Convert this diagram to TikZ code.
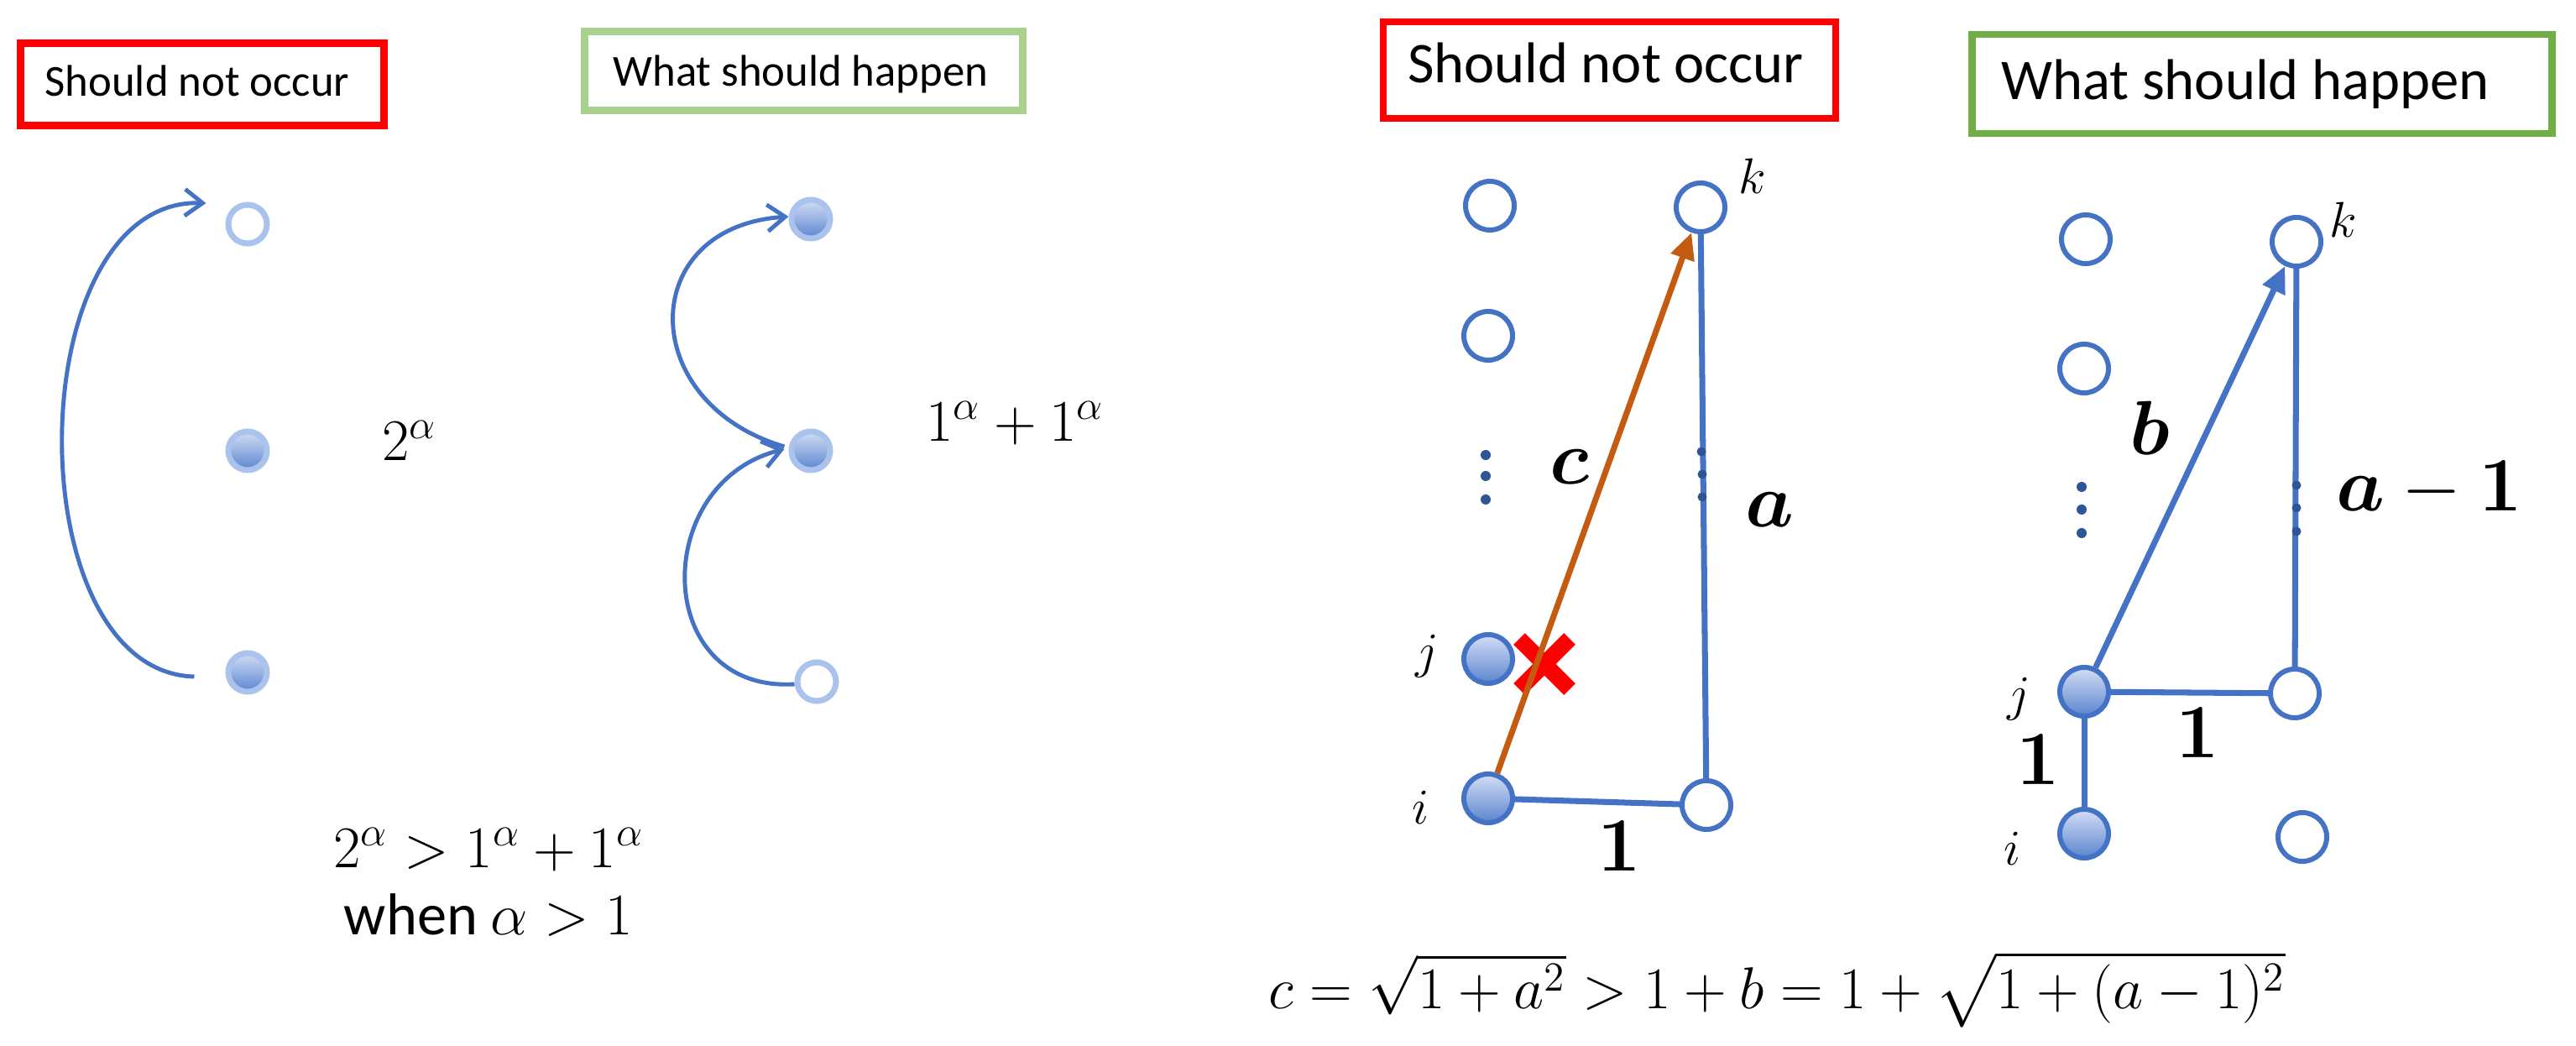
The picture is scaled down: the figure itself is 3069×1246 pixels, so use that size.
\RequirePackage{fix-cm}
\documentclass[tikz,border=0pt]{standalone}
\usepackage{amsmath}
\usepackage{bm}
\usepackage[no-math]{fontspec}
\setmainfont{Carlito}
\usetikzlibrary{arrows.meta}
\definecolor{lnblue}{HTML}{4472C4}
\definecolor{dotblue}{HTML}{2F5597}
\definecolor{ringlight}{HTML}{A9C3EC}
\definecolor{ballTop}{HTML}{D3DEF4}
\definecolor{ballBot}{HTML}{5B84CF}
\definecolor{arrorange}{HTML}{C55A11}
\definecolor{greenA}{HTML}{A9D18E}
\definecolor{greenB}{HTML}{70AD47}
\definecolor{xred}{HTML}{FF0000}
\begin{document}
\begin{tikzpicture}[x=0.01cm,y=-0.01cm,
  t15/.style={inner sep=0,font=\fontsize{15}{18}\selectfont},
  t20/.style={inner sep=0,font=\fontsize{19.5}{23}\selectfont},
  m20/.style={inner sep=0,font=\fontsize{20}{24}\selectfont},
  bl/.style={inner sep=0,font=\fontsize{26}{31}\selectfont},
  il/.style={inner sep=0,font=\fontsize{17}{20}\selectfont},
  hol/.style={circle,draw=lnblue,fill=white,line width=1.7pt,minimum size=0.58cm,inner sep=0},
  ful/.style={circle,draw=lnblue,line width=1.7pt,minimum size=0.58cm,inner sep=0,top color=ballTop,bottom color=ballBot},
  lhol/.style={circle,draw=ringlight,fill=white,line width=2pt,minimum size=0.46cm,inner sep=0},
  lful/.style={circle,draw=ringlight,line width=2pt,minimum size=0.46cm,inner sep=0,top color=ballTop,bottom color=ballBot},
  edgeln/.style={draw=lnblue,line width=2pt},
  curvearr/.style={draw=lnblue,line width=1.4pt,-{Straight Barb[length=6pt,width=9pt]}},
  framebox/.style={inner sep=0,line width=2.5pt}
]
\useasboundingbox (0,0) rectangle (3069,1246);

% ---------- frames ----------
\node[framebox,draw=xred,minimum width=4.33cm,minimum height=0.98cm] (bxL1) at (241,100.5) {};
\node[framebox,draw=greenA,minimum width=5.22cm,minimum height=0.94cm] (bxL2) at (957.5,84.5) {};
\node[framebox,draw=xred,line width=2.2pt,minimum width=5.39cm,minimum height=1.15cm] (bxR1) at (1917.5,83.5) {};
\node[framebox,draw=greenB,minimum width=6.9cm,minimum height=1.18cm] (bxR2) at (2695,100) {};
\node[t15,anchor=base] (tL1) at (235,115) {Should not occur};
\node[t15,anchor=base] (tL2) at (954,103) {What should happen};
\node[t20,anchor=base] (tR1) at (1913,99) {Should not occur};
\node[t20,anchor=base] (tR2) at (2675,119) {What should happen};

% ---------- left panel ----------
\node[lhol] (L1) at (295,267) {};
\node[lful] (L2) at (295,537) {};
\node[lful] (L3) at (295,801) {};
\node[lful] (M1) at (966,261) {};
\node[lful] (M2) at (966,537) {};
\node[lhol] (M3) at (973,812) {};

\draw[curvearr] ([shift={(-37,5)}]L3.west) .. controls +(-214,-6) and +(-223,-7) .. ([shift={(-23,-25)}]L1.west);
\draw[curvearr] ([shift={(-5,-5)}]M2.west) .. controls +(-177,-52) and +(-182,12) .. ([shift={(0,-3)}]M1.west);
\draw[curvearr] ([shift={(0,3)}]M3.west) .. controls +(-170,10) and +(-160,40) .. ([shift={(-5,-2)}]M2.west);

\node[m20,anchor=base west] (p2) at (455,548) {$2^{\alpha}$};
\node[m20,anchor=base west] (p11) at (1103,525) {$1^{\alpha}+1^{\alpha}$};
\node[m20,anchor=base] (ineq) at (582,1033) {$2^{\alpha}>1^{\alpha}+1^{\alpha}$};
\node[m20,anchor=base] (when) at (582,1113) {when $\alpha>1$};

% ---------- right panel A ----------
\node[hol] (uA1) at (1775,245) {};
\node[hol] (uA2) at (1773,400) {};
\node[ful] (jA) at (1773,785) {};
\node[ful] (iA) at (1773,951) {};
\node[hol] (kA) at (2026,247) {};
\node[hol] (bA) at (2033,959) {};
\fill[dotblue] (1770,542) circle[radius=0.06cm] (1770,567) circle[radius=0.06cm] (1770,595) circle[radius=0.06cm];

\draw[edgeln] (iA) -- (bA);
\draw[edgeln] (kA) -- (bA);
\fill[dotblue] (2027,538) circle[radius=0.055cm] (2028,565) circle[radius=0.055cm] (2028,592) circle[radius=0.055cm];
\coordinate (xc) at (1840,791);
\draw[xred,line width=5.5pt] (xc) +(-30,-30) -- +(30,30) +(30,-30) -- +(-30,30);
\draw[draw=arrorange,line width=2pt,-{Triangle[length=9pt,width=8pt]}] (iA) -- (kA);

\node[bl,anchor=base] (lc) at (1870,577) {$\boldsymbol{c}$};
\node[bl,anchor=base] (la) at (2108,627) {$\boldsymbol{a}$};
\node[bl,anchor=base] (l1A) at (1929,1037) {$\mathbf{1}$};
\node[il,anchor=base] (lkA) at (2088,231) {$k$};
\node[il,anchor=base] (ljA) at (1700,795) {$j$};
\node[il,anchor=base] (liA) at (1692,981) {$i$};

% ---------- right panel B ----------
\node[hol] (uB1) at (2485,285) {};
\node[hol] (uB2) at (2483,439) {};
\node[ful] (jB) at (2483,824) {};
\node[ful] (iB) at (2483,993) {};
\node[hol] (kB) at (2736,288) {};
\node[hol] (mB) at (2734,826) {};
\node[hol] (nB) at (2743,997) {};
\fill[dotblue] (2480,580) circle[radius=0.06cm] (2480,607) circle[radius=0.06cm] (2480,635) circle[radius=0.06cm];

\draw[edgeln] (jB) -- (mB);
\draw[edgeln] (jB) -- (iB);
\draw[edgeln] (kB) -- (mB);
\fill[dotblue] (2736,578) circle[radius=0.055cm] (2736,605) circle[radius=0.055cm] (2736,633) circle[radius=0.055cm];
\draw[edgeln,-{Triangle[length=9pt,width=8pt]}] (jB) -- (kB);

\node[bl,anchor=base] (lb) at (2561,542) {$\boldsymbol{b}$};
\node[bl,anchor=base] (lam1) at (2894,608) {$\boldsymbol{a}-\mathbf{1}$};
\node[bl,anchor=base] (l1h) at (2618,902) {$\mathbf{1}$};
\node[bl,anchor=base] (l1v) at (2428,934) {$\mathbf{1}$};
\node[il,anchor=base] (lkB) at (2792,283) {$k$};
\node[il,anchor=base] (ljB) at (2405,846) {$j$};
\node[il,anchor=base] (liB) at (2397,1030) {$i$};

% ---------- bottom equation ----------
\node[m20,anchor=base] (eq) at (2117,1201) {$c=\sqrt{1+a^2}>1+b=1+\sqrt{1+(a-1)^2}$};
\end{tikzpicture}
\end{document}
